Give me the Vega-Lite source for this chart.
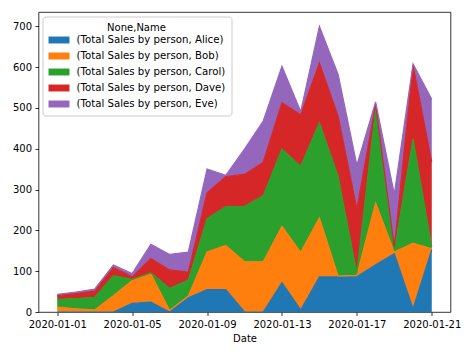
{
  "$schema": "https://vega.github.io/schema/vega-lite/v6.json",
  "width": 412,
  "height": 300,
  "autosize": {"type": "none"},
  "padding": {"left": 38.5, "top": 12, "right": 23.5, "bottom": 43},
  "config": {
    "font": "DejaVu Sans",
    "view": {"stroke": "#000000", "strokeWidth": 0.8},
    "axis": {
      "grid": false, "domain": false,
      "tickColor": "#000000", "tickWidth": 0.8, "tickSize": 3.5,
      "labelColor": "#000000", "labelFontSize": 10, "labelPadding": 3.5,
      "titleColor": "#000000", "titleFontSize": 10, "titleFontWeight": "normal"
    }
  },
  "data": {"values": [
    {"Date":"2020-01-01","Name":"Alice","Sales":0},{"Date":"2020-01-02","Name":"Alice","Sales":0},{"Date":"2020-01-03","Name":"Alice","Sales":0},{"Date":"2020-01-04","Name":"Alice","Sales":0},{"Date":"2020-01-05","Name":"Alice","Sales":21},{"Date":"2020-01-06","Name":"Alice","Sales":24},{"Date":"2020-01-07","Name":"Alice","Sales":0},{"Date":"2020-01-08","Name":"Alice","Sales":35},{"Date":"2020-01-09","Name":"Alice","Sales":55},{"Date":"2020-01-10","Name":"Alice","Sales":55},{"Date":"2020-01-11","Name":"Alice","Sales":0},{"Date":"2020-01-12","Name":"Alice","Sales":0},{"Date":"2020-01-13","Name":"Alice","Sales":72},{"Date":"2020-01-14","Name":"Alice","Sales":5},{"Date":"2020-01-15","Name":"Alice","Sales":86},{"Date":"2020-01-16","Name":"Alice","Sales":86},{"Date":"2020-01-17","Name":"Alice","Sales":87},{"Date":"2020-01-18","Name":"Alice","Sales":116},{"Date":"2020-01-19","Name":"Alice","Sales":143},{"Date":"2020-01-20","Name":"Alice","Sales":8},{"Date":"2020-01-21","Name":"Alice","Sales":153},
    {"Date":"2020-01-01","Name":"Bob","Sales":12},{"Date":"2020-01-02","Name":"Bob","Sales":8},{"Date":"2020-01-03","Name":"Bob","Sales":5},{"Date":"2020-01-04","Name":"Bob","Sales":40},{"Date":"2020-01-05","Name":"Bob","Sales":56},{"Date":"2020-01-06","Name":"Bob","Sales":69},{"Date":"2020-01-07","Name":"Bob","Sales":4},{"Date":"2020-01-08","Name":"Bob","Sales":4},{"Date":"2020-01-09","Name":"Bob","Sales":92},{"Date":"2020-01-10","Name":"Bob","Sales":108},{"Date":"2020-01-11","Name":"Bob","Sales":123},{"Date":"2020-01-12","Name":"Bob","Sales":123},{"Date":"2020-01-13","Name":"Bob","Sales":138},{"Date":"2020-01-14","Name":"Bob","Sales":141},{"Date":"2020-01-15","Name":"Bob","Sales":145},{"Date":"2020-01-16","Name":"Bob","Sales":2},{"Date":"2020-01-17","Name":"Bob","Sales":3},{"Date":"2020-01-18","Name":"Bob","Sales":151},{"Date":"2020-01-19","Name":"Bob","Sales":4},{"Date":"2020-01-20","Name":"Bob","Sales":161},{"Date":"2020-01-21","Name":"Bob","Sales":2},
    {"Date":"2020-01-01","Name":"Carol","Sales":19},{"Date":"2020-01-02","Name":"Carol","Sales":25},{"Date":"2020-01-03","Name":"Carol","Sales":31},{"Date":"2020-01-04","Name":"Carol","Sales":49},{"Date":"2020-01-05","Name":"Carol","Sales":3},{"Date":"2020-01-06","Name":"Carol","Sales":3},{"Date":"2020-01-07","Name":"Carol","Sales":54},{"Date":"2020-01-08","Name":"Carol","Sales":39},{"Date":"2020-01-09","Name":"Carol","Sales":82},{"Date":"2020-01-10","Name":"Carol","Sales":95},{"Date":"2020-01-11","Name":"Carol","Sales":136},{"Date":"2020-01-12","Name":"Carol","Sales":162},{"Date":"2020-01-13","Name":"Carol","Sales":189},{"Date":"2020-01-14","Name":"Carol","Sales":211},{"Date":"2020-01-15","Name":"Carol","Sales":233},{"Date":"2020-01-16","Name":"Carol","Sales":244},{"Date":"2020-01-17","Name":"Carol","Sales":5},{"Date":"2020-01-18","Name":"Carol","Sales":230},{"Date":"2020-01-19","Name":"Carol","Sales":4},{"Date":"2020-01-20","Name":"Carol","Sales":255},{"Date":"2020-01-21","Name":"Carol","Sales":4},
    {"Date":"2020-01-01","Name":"Dave","Sales":9},{"Date":"2020-01-02","Name":"Dave","Sales":12},{"Date":"2020-01-03","Name":"Dave","Sales":15},{"Date":"2020-01-04","Name":"Dave","Sales":20},{"Date":"2020-01-05","Name":"Dave","Sales":6},{"Date":"2020-01-06","Name":"Dave","Sales":35},{"Date":"2020-01-07","Name":"Dave","Sales":45},{"Date":"2020-01-08","Name":"Dave","Sales":20},{"Date":"2020-01-09","Name":"Dave","Sales":63},{"Date":"2020-01-10","Name":"Dave","Sales":74},{"Date":"2020-01-11","Name":"Dave","Sales":78},{"Date":"2020-01-12","Name":"Dave","Sales":82},{"Date":"2020-01-13","Name":"Dave","Sales":114},{"Date":"2020-01-14","Name":"Dave","Sales":126},{"Date":"2020-01-15","Name":"Dave","Sales":146},{"Date":"2020-01-16","Name":"Dave","Sales":148},{"Date":"2020-01-17","Name":"Dave","Sales":157},{"Date":"2020-01-18","Name":"Dave","Sales":12},{"Date":"2020-01-19","Name":"Dave","Sales":8},{"Date":"2020-01-20","Name":"Dave","Sales":181},{"Date":"2020-01-21","Name":"Dave","Sales":208},
    {"Date":"2020-01-01","Name":"Eve","Sales":3},{"Date":"2020-01-02","Name":"Eve","Sales":4},{"Date":"2020-01-03","Name":"Eve","Sales":5},{"Date":"2020-01-04","Name":"Eve","Sales":6},{"Date":"2020-01-05","Name":"Eve","Sales":8},{"Date":"2020-01-06","Name":"Eve","Sales":35},{"Date":"2020-01-07","Name":"Eve","Sales":38},{"Date":"2020-01-08","Name":"Eve","Sales":49},{"Date":"2020-01-09","Name":"Eve","Sales":58},{"Date":"2020-01-10","Name":"Eve","Sales":3},{"Date":"2020-01-11","Name":"Eve","Sales":62},{"Date":"2020-01-12","Name":"Eve","Sales":101},{"Date":"2020-01-13","Name":"Eve","Sales":89},{"Date":"2020-01-14","Name":"Eve","Sales":8},{"Date":"2020-01-15","Name":"Eve","Sales":90},{"Date":"2020-01-16","Name":"Eve","Sales":102},{"Date":"2020-01-17","Name":"Eve","Sales":108},{"Date":"2020-01-18","Name":"Eve","Sales":6},{"Date":"2020-01-19","Name":"Eve","Sales":130},{"Date":"2020-01-20","Name":"Eve","Sales":3},{"Date":"2020-01-21","Name":"Eve","Sales":154}
  ]},
  "mark": {"type": "area", "opacity": 1, "line": {"strokeWidth": 1.2}},
  "encoding": {
    "x": {
      "field": "Date", "type": "temporal",
      "scale": {"type": "utc", "domain": [1577750400000, 1579651200000], "nice": false},
      "axis": {
        "title": "Date", "titlePadding": 4,
        "values": [1577836800000, 1578182400000, 1578528000000, 1578873600000, 1579219200000, 1579564800000],
        "format": "%Y-%m-%d", "labelAngle": 0
      }
    },
    "y": {
      "field": "Sales", "type": "quantitative", "stack": "zero",
      "scale": {"domain": [0, 735], "nice": false, "zero": true},
      "axis": {"title": null, "values": [0, 100, 200, 300, 400, 500, 600, 700]}
    },
    "order": {"field": "Name", "sort": "ascending"},
    "color": {
      "field": "Name", "type": "nominal",
      "scale": {
        "domain": ["Alice", "Bob", "Carol", "Dave", "Eve"],
        "range": ["#1f77b4", "#ff7f0e", "#2ca02c", "#d62728", "#9467bd"]
      },
      "legend": {
        "orient": "none", "legendX": 4, "legendY": 4.5,
        "title": "None,Name", "titleFontSize": 10, "titleFontWeight": "normal", "titleColor": "#000000",
        "titleAnchor": "middle", "titlePadding": -3,
        "labelExpr": "'(Total Sales by person, ' + datum.label + ')'",
        "labelFontSize": 10.2, "labelColor": "#000000", "labelOffset": 7,
        "symbolType": "M-1,-0.33H1V0.33H-1Z", "symbolSize": 441, "symbolStrokeWidth": 0, "symbolOpacity": 1,
        "rowPadding": 0, "columnPadding": 0,
        "padding": 6, "strokeColor": "#cccccc", "fillColor": "rgba(255,255,255,0.8)", "cornerRadius": 3
      }
    }
  }
}
